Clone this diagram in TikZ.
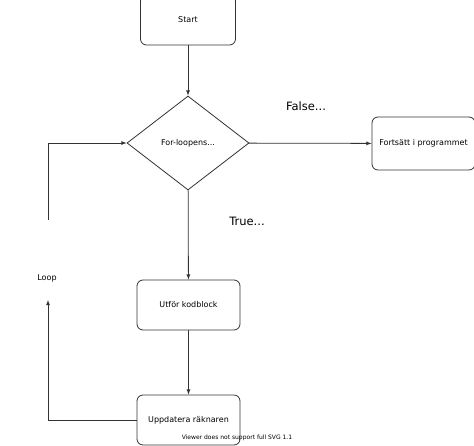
\documentclass[tikz,border=0pt]{standalone}
\usepackage{fontspec}
\setmainfont{DejaVu Sans}
\usetikzlibrary{shapes.geometric}
\pgfdeclarelayer{edgelayer}
\pgfdeclarelayer{nodelayer}
\pgfsetlayers{edgelayer,nodelayer,main}
\tikzstyle{block}=[rectangle, rounded corners=6pt, draw=black!80, fill=white, minimum width=98pt, minimum height=50pt, inner sep=1pt, font=\fontsize{8}{9}\selectfont, line width=0.8pt]
\tikzstyle{decision}=[diamond, draw=black!80, fill=white, minimum width=122pt, minimum height=94pt, inner sep=0pt, font=\fontsize{8}{9}\selectfont, line width=0.8pt]
\tikzstyle{label}=[font=\fontsize{11.5}{13}\selectfont]
\tikzstyle{arrow}=[->, >=latex, draw=black!80, line width=0.8pt]

\begin{document}
\begin{tikzpicture}[x=1pt, y=-1pt]
            \useasboundingbox (0, 0) rectangle (474, 445);
            \begin{pgfonlayer}{nodelayer}
                \node [style=block, minimum width=95pt] (start) at (188, 20) {Start};
                \node [style=decision] (loop) at (188, 143) {For-loopens...};
                \node [style=block, minimum width=103pt, minimum height=53pt] (cont) at (423.5, 143.5) {Fortsätt i programmet};
                \node [style=block, minimum width=103pt] (body) at (188.5, 305) {Utför kodblock};
                \node [style=block, minimum width=103pt] (upd) at (188.5, 420) {Uppdatera räknaren};

                \node [style=label] (false) at (306, 106) {False...};
                \node [style=label] (true) at (247, 221) {True...};
                \node [font=\fontsize{8}{9}\selectfont] (looplbl) at (47, 278) {Loop};
                \node [font=\fontsize{6}{7}\selectfont] (viewer) at (237, 437.5) {Viewer does not support full SVG 1.1};

                \coordinate (c1) at (48, 420);
                \coordinate (c2) at (48, 300);
                \coordinate (c3) at (48, 220);
                \coordinate (c4) at (48, 143);
            \end{pgfonlayer}
            \begin{pgfonlayer}{edgelayer}
                \draw [style=arrow] (start) to (loop);
                \draw [style=arrow] (loop) to (cont);
                \draw [style=arrow] (loop) to (body);
                \draw [style=arrow] (body) to (upd);

                \draw [style=arrow] (upd.west) -- (c1) -- (c2);
                \draw [style=arrow] (c3) -- (c4) -- (loop.west);
            \end{pgfonlayer}
        \end{tikzpicture}
\end{document}
